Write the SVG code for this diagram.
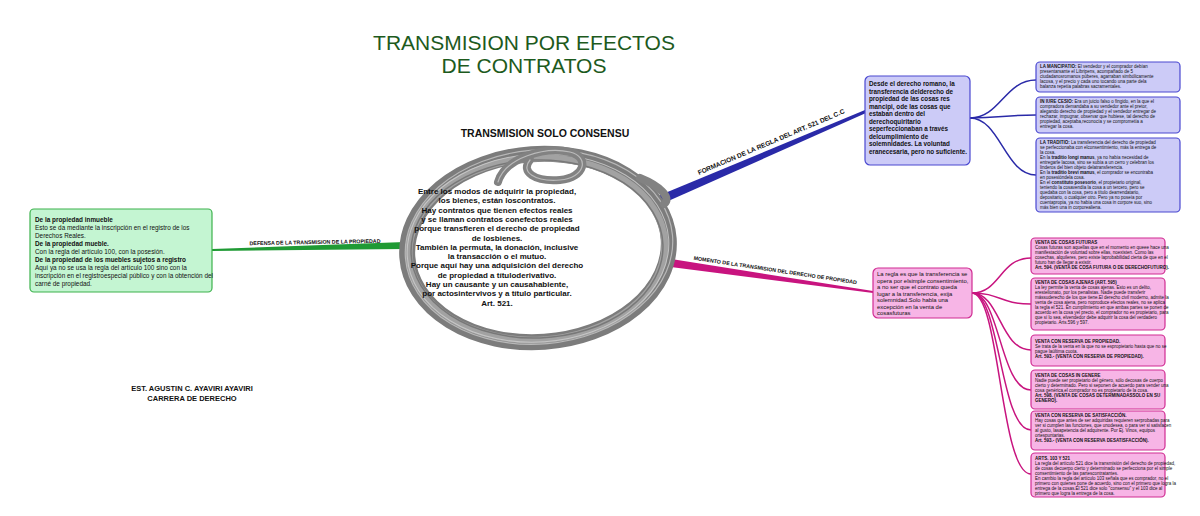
<svg xmlns="http://www.w3.org/2000/svg" width="1200" height="516" viewBox="0 0 1200 516">
<style>
.t{font-family:"Liberation Sans",Arial,sans-serif;fill:#111}
.b{font-weight:bold}
.leaf{font-family:"Liberation Sans",Arial,sans-serif;font-size:4.5px;fill:#111}
.pbox{fill:#cccbf7;stroke:#4a48d0;stroke-width:1.2}
.kbox{fill:#f7b5e6;stroke:#d02c92;stroke-width:1.2}
.gbox{fill:#c4f5d2;stroke:#3cb24c;stroke-width:1.2}
.pl{fill:none;stroke:#2a2aa8;stroke-width:1.5}
.kl{fill:none;stroke:#c8147f;stroke-width:1.5}
.br{fill:none;stroke-linecap:round}
</style>
<rect width="1200" height="516" fill="#fff"/>
<g id="title">
<text class="t" x="524" y="50" font-size="21" text-anchor="middle" style="fill:#1d5a1d">TRANSMISION POR EFECTOS</text>
<text class="t" x="524" y="73" font-size="21" text-anchor="middle" style="fill:#1d5a1d">DE CONTRATOS</text>
</g>
<g id="author">
<text class="t b" x="192" y="391" font-size="7.5" text-anchor="middle">EST. AGUSTIN C. AYAVIRI AYAVIRI</text>
<text class="t b" x="192" y="401" font-size="7.5" text-anchor="middle">CARRERA DE DERECHO</text>
</g>
<g id="connectors">
<polygon points="212,249 405,242 405,249 212,251" fill="#1f9a34"/>
<text class="t b" x="315" y="244" font-size="5.3" text-anchor="middle" transform="rotate(-1 315 244)">DEFENSA DE LA TRANSMISION DE LA PROPIEDAD</text>
<polygon points="653,198 865,110 866,113 657,206" fill="#2a2aa8"/>
<text class="t b" x="772" y="144" font-size="6.6" text-anchor="middle" transform="rotate(-23 772 144)">FORMACION DE LA REGLA DEL ART. 521 DEL C.C</text>
<polygon points="665,258 873,291 873,293 663,266" fill="#c8147f"/>
<text class="t b" x="775" y="272" font-size="5.3" text-anchor="middle" transform="rotate(8.5 775 272)">MOMENTO DE LA TRANSMISION DEL DERECHO DE PROPIEDAD</text>
<path class="pl" d="M970,118 C1000,118 1005,80 1036,80"/>
<path class="pl" d="M970,118 C1000,118 1005,115 1036,115"/>
<path class="pl" d="M970,118 C1000,118 1005,175 1036,175"/>
<path class="kl" d="M972,293 C1000,293 1000,258 1031,258"/>
<path class="kl" d="M972,293 C1000,293 1000,304 1031,304"/>
<path class="kl" d="M972,293 C1000,293 1000,350 1031,350"/>
<path class="kl" d="M972,293 C1000,293 1000,390 1031,390"/>
<path class="kl" d="M972,293 C1000,293 1000,430 1031,430"/>
<path class="kl" d="M972,293 C1000,293 1000,474 1031,474"/>
</g>
<g id="center">
<ellipse class="br" cx="538" cy="248" rx="131" ry="94" stroke="#7c7c7c" stroke-width="16" transform="rotate(-4 538 248)"/>
<ellipse class="br" cx="537" cy="249" rx="128" ry="91" stroke="#a2a2a2" stroke-width="7" transform="rotate(-3 537 249)"/>
<ellipse class="br" cx="539" cy="247" rx="134" ry="97" stroke="#b8b8b8" stroke-width="1.2" transform="rotate(-5 539 247)"/>
<ellipse class="br" cx="537" cy="249" rx="126" ry="89" stroke="#666" stroke-width="1.5" transform="rotate(-2 537 249)" opacity="0.7"/>
<ellipse class="br" cx="538" cy="248" rx="131" ry="94" stroke="#d0d0d0" stroke-width="1" transform="rotate(-4 538 248)" opacity="0.8"/>
<path class="br" d="M498,182 C505,158 545,146 570,152 C590,157 585,178 560,180 C535,182 520,172 530,160" stroke="#828282" stroke-width="8"/>
<path class="br" d="M498,182 C505,158 545,146 570,152 C590,157 585,178 560,180 C535,182 520,172 530,160" stroke="#bbb" stroke-width="1.2"/>
<path class="br" d="M640,178 C660,186 672,198 664,204" stroke="#828282" stroke-width="8"/>
<text class="t b" x="545" y="137" font-size="10.5" text-anchor="middle">TRANSMISION SOLO CONSENSU</text>
<g class="t b" font-size="8" text-anchor="middle">
<text x="497" y="194">Entre los modos de adquirir la propiedad,</text>
<text x="497" y="203.3">los bienes, están loscontratos.</text>
<text x="497" y="212.6">Hay contratos que tienen efectos reales</text>
<text x="497" y="221.9">y se llaman contratos conefectos reales</text>
<text x="497" y="231.2">porque transfieren el derecho de propiedad</text>
<text x="497" y="240.5">de losbienes.</text>
<text x="497" y="249.8">También la permuta, la donación, inclusive</text>
<text x="497" y="259.1">la transacción o el mutuo.</text>
<text x="497" y="268.4">Porque aquí hay una adquisición del derecho</text>
<text x="497" y="277.7">de propiedad a títuloderivativo.</text>
<text x="497" y="287">Hay un causante y un causahabiente,</text>
<text x="497" y="296.3">por actosintervivos y a título particular.</text>
<text x="497" y="305.6">Art. 521.</text>
</g>
</g>
<g id="green-node">
<rect class="gbox" x="30" y="209" width="182" height="83" rx="4"/>
<g class="t" font-size="6.4">
<text x="35" y="222" class="b">De la propiedad inmueble</text>
<text x="35" y="230">Esto se da mediante la inscripción en el registro de los</text>
<text x="35" y="238">Derechos Reales.</text>
<text x="35" y="246" class="b">De la propiedad mueble.</text>
<text x="35" y="254">Con la regla del artículo 100, con la posesión.</text>
<text x="35" y="262" class="b">De la propiedad de los muebles sujetos a registro</text>
<text x="35" y="270">Aquí ya no se usa la regla del artículo 100 sino con la</text>
<text x="35" y="278">inscripción en el registroespecial público y con la obtención del</text>
<text x="35" y="286">carné de propiedad.</text>
</g>
</g>
<g id="purple-main">
<rect class="pbox" x="865" y="76" width="105" height="89" rx="5"/>
<g class="t b" font-size="6.3">
<text x="869" y="86">Desde el derecho romano, la</text>
<text x="869" y="93.5">transferencia delderecho de</text>
<text x="869" y="101">propiedad de las cosas res</text>
<text x="869" y="108.5">mancipi, ode las cosas que</text>
<text x="869" y="116">estaban dentro del</text>
<text x="869" y="123.5">derechoquiritario</text>
<text x="869" y="131">seperfeccionaban a través</text>
<text x="869" y="138.5">delcumplimiento de</text>
<text x="869" y="146">solemnidades. La voluntad</text>
<text x="869" y="153.5">eranecesaria, pero no suficiente.</text>
</g>
</g>
<g id="purple-1">
<rect class="pbox" x="1036" y="62" width="144" height="30" rx="4"/>
<g class="leaf">
<text x="1040" y="68"><tspan class="b">LA MANCIPATIO:</tspan> El vendedor y el comprador debían</text>
<text x="1040" y="73">presentarsante el Líbripens, acompañado de 5</text>
<text x="1040" y="78">ciudadanosromanos púberes, agarraban simbólicamente</text>
<text x="1040" y="83">lacosa, y el precio y cada uno tocando una parte dela</text>
<text x="1040" y="88">balanza repetía palabras sacramentales.</text>
</g>
</g>
<g id="purple-2">
<rect class="pbox" x="1036" y="97" width="144" height="36" rx="4"/>
<g class="leaf">
<text x="1040" y="103"><tspan class="b">IN IURE CESIO:</tspan> Era un juicio falso o fingido, en la que el</text>
<text x="1040" y="108">compradora demandaba a su vendedor ante el pretor,</text>
<text x="1040" y="113">alegando derecho de propiedad y el vendedor entregar de</text>
<text x="1040" y="118">rechazar, impugnar, observar que hubiese, tal derecho de</text>
<text x="1040" y="123">propiedad, aceptaba,reconocía y se comprometía a</text>
<text x="1040" y="128">entregar la cosa.</text>
</g>
</g>
<g id="purple-3">
<rect class="pbox" x="1036" y="138" width="144" height="74" rx="4"/>
<g class="leaf">
<text x="1040" y="144"><tspan class="b">LA TRADITIO:</tspan> La transferencia del derecho de propiedad</text>
<text x="1040" y="149">se perfeccionaba con elconsentimiento, más la entrega de</text>
<text x="1040" y="154">la cosa.</text>
<text x="1040" y="159">En la <tspan class="b">traditio longi manus</tspan>, ya no había necesidad de</text>
<text x="1040" y="164">entregarle lacosa, sino se subía a un cerro y celebran los</text>
<text x="1040" y="169">linderos del bien objeto delatransferencia.</text>
<text x="1040" y="174">En la <tspan class="b">traditio brevi manus</tspan>, el comprador se encontraba</text>
<text x="1040" y="179">en posesióndela cosa.</text>
<text x="1040" y="184">En el <tspan class="b">constituto posesorio</tspan>, el propietario original,</text>
<text x="1040" y="189">teniendo la cosavendía la cosa a un tercero, pero se</text>
<text x="1040" y="194">quedaba con la cosa, pero a título dearrendatario,</text>
<text x="1040" y="199">depositario, o cualquier otro. Pero ya no poseía por</text>
<text x="1040" y="204">cuentapropia, ya no había una cosa in corpore suo, sino</text>
<text x="1040" y="209">más bien una in corporealiena.</text>
</g>
</g>
<g id="pink-main">
<rect class="kbox" x="873" y="268" width="99" height="50" rx="5"/>
<g class="t" font-size="5.9">
<text x="877" y="276">La regla es que la transferencia se</text>
<text x="877" y="282.5">opera por elsimple consentimiento,</text>
<text x="877" y="289">a no ser que el contrato queda</text>
<text x="877" y="295.5">lugar a la transferencia, exija</text>
<text x="877" y="302">solemnidad.Solo habla una</text>
<text x="877" y="308.5">excepción en la venta de</text>
<text x="877" y="315">cosasfuturas</text>
</g>
</g>
<g id="pink-1">
<rect class="kbox" x="1031" y="238" width="134" height="36" rx="4"/>
<g class="leaf">
<text x="1035" y="244" class="b">VENTA DE COSAS FUTURAS</text>
<text x="1035" y="249">Cosas futuras son aquellas que en el momento en queee hace una</text>
<text x="1035" y="254">manifestación de voluntad sobre ellas, noexisten. Como las</text>
<text x="1035" y="259">cosechas, alquileres, pero existe laprobabilidad cierta de que en el</text>
<text x="1035" y="264">futuro han de llegar a existir.</text>
<text x="1035" y="269" class="b">Art. 594. (VENTA DE COSA FUTURA O DE DERECHOFUTURO).</text>
</g>
</g>
<g id="pink-2">
<rect class="kbox" x="1031" y="278" width="134" height="52" rx="4"/>
<g class="leaf">
<text x="1035" y="284" class="b">VENTA DE COSAS AJENAS (ART. 595)</text>
<text x="1035" y="289">La ley permite la venta de cosas ajenas. Esto es un delito,</text>
<text x="1035" y="294">erestelionato, por los penalistas. Nadie puede transferir</text>
<text x="1035" y="299">mássuderecho de los que tiene.El derecho civil moderno, admite la</text>
<text x="1035" y="304">venta de cosa ajena, pero noproduce efectos reales, no se aplica</text>
<text x="1035" y="309">la regla el 521. En cumplimiento en que ambas partes se ponen de</text>
<text x="1035" y="314">acuerdo en la cosa yel precio, el comprador no es propietario, para</text>
<text x="1035" y="319">que sí lo sea, elvendedor debe adquirir la cosa del verdadero</text>
<text x="1035" y="324">propietario. Arts.596 y 597.</text>
</g>
</g>
<g id="pink-3">
<rect class="kbox" x="1031" y="335" width="134" height="31" rx="4"/>
<g class="leaf">
<text x="1035" y="343" class="b">VENTA CON RESERVA DE PROPIEDAD.</text>
<text x="1035" y="348">Se trata de la venta en la que no se espropietario hasta que no se</text>
<text x="1035" y="353">pague laúltima cuota.</text>
<text x="1035" y="358" class="b">Art. 593.- (VENTA CON RESERVA DE PROPIEDAD).</text>
</g>
</g>
<g id="pink-4">
<rect class="kbox" x="1031" y="370" width="134" height="39" rx="4"/>
<g class="leaf">
<text x="1035" y="377" class="b">VENTA DE COSAS IN GENERE</text>
<text x="1035" y="382">Nadie puede ser propietario del género, sólo decosas de cuerpo</text>
<text x="1035" y="387">cierto y determinado. Pero si seponen de acuerdo para vender una</text>
<text x="1035" y="392">cosa genérica,el comprador no es propietario de la cosa.</text>
<text x="1035" y="397" class="b">Art. 598. (VENTA DE COSAS DETERMINADASSOLO EN SU</text>
<text x="1035" y="402" class="b">GENERO).</text>
</g>
</g>
<g id="pink-5">
<rect class="kbox" x="1031" y="411" width="134" height="39" rx="4"/>
<g class="leaf">
<text x="1035" y="417" class="b">VENTA CON RESERVA DE SATISFACCIÓN.</text>
<text x="1035" y="422">Hay cosas que antes de ser adquiridas requieren serprobadas para</text>
<text x="1035" y="427">ver si cumplen las funciones, que unodesea, o para ver si satisfacen</text>
<text x="1035" y="432">al gusto, lasapetencia del adquirente. Por Ej. Vinos, equipos</text>
<text x="1035" y="437">ortespuntarias.</text>
<text x="1035" y="442" class="b">Art. 593.- (VENTA CON RESERVA DESATISFACCIÓN).</text>
</g>
</g>
<g id="pink-6">
<rect class="kbox" x="1031" y="453" width="134" height="44" rx="4"/>
<g class="leaf">
<text x="1035" y="460" class="b">ARTS. 103 Y 521</text>
<text x="1035" y="465">La regla del artículo 521 dice la transmisión del derecho de propiedad,</text>
<text x="1035" y="470">de cosas decuerpo cierto y determinado se perfecciona por el simple</text>
<text x="1035" y="475">consentimiento de las partescontratantes.</text>
<text x="1035" y="480">En cambio la regla del artículo 103 señala que es comprador, no el</text>
<text x="1035" y="485">primero con quienes pone de acuerdo, sino con el primero que logra la</text>
<text x="1035" y="490">entrega de la cosas.El 521 dice solo "consensu" y el 103 dice al</text>
<text x="1035" y="495">primero que logra la entrega de la cosa.</text>
</g>
</g>
</svg>
